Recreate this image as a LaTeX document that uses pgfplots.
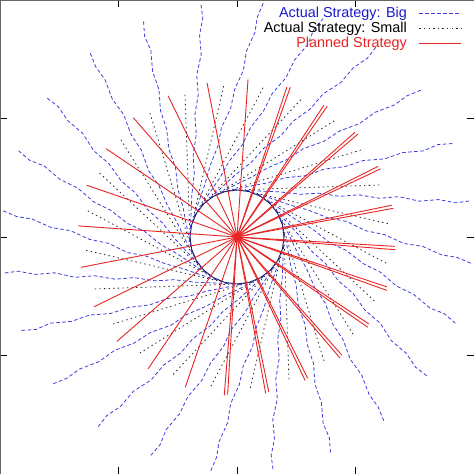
\documentclass[border=0pt]{standalone}
\usepackage{pgfplots}
\pgfplotsset{compat=1.18}
\usepackage{fontspec}
\setmainfont{Liberation Sans}
\definecolor{bigblue}{RGB}{60,60,225}
\definecolor{legblue}{RGB}{25,25,205}
\definecolor{planred}{RGB}{232,35,35}
\definecolor{circnavy}{RGB}{25,25,110}
\pgfplotsset{
  big/.style={draw=bigblue, color=bigblue, line width=0.8pt, dash pattern=on 3.6pt off 2.4pt, data cs=polar},
  small/.style={draw=black!85, color=black!85, line width=0.8pt, dash pattern=on 1.4pt off 3.2pt, data cs=polar},
  plan/.style={draw=planred, color=planred, line width=0.9pt, data cs=polar},
}
\begin{document}
\begin{tikzpicture}
\begin{axis}[
  width=474pt, height=474pt, scale only axis,
  xmin=-237, xmax=237, ymin=-237, ymax=237,
  xtick={-118.5,0,118.5}, ytick={-118.5,0,118.5},
  xticklabel=\empty, yticklabel=\empty,
  tick align=inside, major tick length=7pt,
  tick style={black, line width=0.8pt},
  axis line style={line width=0.8pt, black!60},
  legend style={at={(0.9746,0.9873)}, anchor=north east, draw=none, fill=none,
    inner sep=0pt, column sep=12pt, row sep=0pt,
    font=\fontsize{14.4}{15}\selectfont,
    nodes={inner sep=0pt, text height=11pt, text depth=4pt}},
  legend plot pos=right, legend cell align=right,
  legend image code/.code={\draw[#1] (0pt,0pt) -- (42pt,0pt);},
]
% Actual strategy: big (angle, radius)
\addplot[big] coordinates {(177,47) (154,51.1) (137.1,61.7) (124.1,76.2) (118.2,92.8) (111.6,110.5) (109.1,128.9) (105.2,147.7) (104,166.8) (101.1,186) (100.5,205.4) (98.9,221.1) (98.8,236.7)};
\addlegendentry{\textcolor{legblue}{Actual Strategy: Big}}
\addplot[big, forget plot] coordinates {(192,47) (169,51.1) (151.1,61.7) (140.9,76.2) (131.5,92.8) (127.9,110.5) (123.1,128.9) (121.2,147.7) (117.9,166.8) (117,186) (114.8,205.4) (114.7,221.1) (113.3,236.7)};
\addplot[big, forget plot] coordinates {(207,47) (184.8,51.1) (166.3,61.7) (155.7,76.2) (146.9,92.8) (143.1,110.5) (137.8,128.9) (135.9,147.7) (132.8,166.8) (132.1,186) (130,205.4) (129.7,221.1) (128.5,236.7)};
\addplot[big, forget plot] coordinates {(222,47) (199,51.1) (182.1,61.7) (169.1,76.2) (163.2,92.8) (156.6,110.5) (154.1,128.9) (150.2,147.7) (149,166.8) (146.1,186) (145.5,205.4) (143.9,221.1) (143.8,236.7)};
\addplot[big, forget plot] coordinates {(237,47) (214,51.1) (196.1,61.7) (185.9,76.2) (176.5,92.8) (172.9,110.5) (168.1,128.9) (166.2,147.7) (162.9,166.8) (162,186) (159.8,205.4) (159.7,221.1) (158.3,236.7)};
\addplot[big, forget plot] coordinates {(252,47) (229.8,51.1) (211.3,61.7) (200.7,76.2) (191.9,92.8) (188.1,110.5) (182.8,128.9) (180.9,147.7) (177.8,166.8) (177.1,186) (175,205.4) (174.7,221.1) (173.5,236.7)};
\addplot[big, forget plot] coordinates {(267,47) (244,51.1) (227.1,61.7) (214.1,76.2) (208.2,92.8) (201.6,110.5) (199.1,128.9) (195.2,147.7) (194,166.8) (191.1,186) (190.5,205.4) (188.9,221.1) (188.8,236.7)};
\addplot[big, forget plot] coordinates {(282,47) (259,51.1) (241.1,61.7) (230.9,76.2) (221.5,92.8) (217.9,110.5) (213.1,128.9) (211.2,147.7) (207.9,166.8) (207,186) (204.8,205.4) (204.7,221.1) (203.3,236.7)};
\addplot[big, forget plot] coordinates {(297,47) (274.8,51.1) (256.3,61.7) (245.7,76.2) (236.9,92.8) (233.1,110.5) (227.8,128.9) (225.9,147.7) (222.8,166.8) (222.1,186) (220,205.4) (219.7,221.1) (218.5,236.7)};
\addplot[big, forget plot] coordinates {(312,47) (289,51.1) (272.1,61.7) (259.1,76.2) (253.2,92.8) (246.6,110.5) (244.1,128.9) (240.2,147.7) (239,166.8) (236.1,186) (235.5,205.4) (233.9,221.1) (233.8,236.7)};
\addplot[big, forget plot] coordinates {(327,47) (304,51.1) (286.1,61.7) (275.9,76.2) (266.5,92.8) (262.9,110.5) (258.1,128.9) (256.2,147.7) (252.9,166.8) (252,186) (249.8,205.4) (249.7,221.1) (248.3,236.7)};
\addplot[big, forget plot] coordinates {(342,47) (319.8,51.1) (301.3,61.7) (290.7,76.2) (281.9,92.8) (278.1,110.5) (272.8,128.9) (270.9,147.7) (267.8,166.8) (267.1,186) (265,205.4) (264.7,221.1) (263.5,236.7)};
\addplot[big, forget plot] coordinates {(357,47) (334,51.1) (317.1,61.7) (304.1,76.2) (298.2,92.8) (291.6,110.5) (289.1,128.9) (285.2,147.7) (284,166.8) (281.1,186) (280.5,205.4) (278.9,221.1) (278.8,236.7)};
\addplot[big, forget plot] coordinates {(372,47) (349,51.1) (331.1,61.7) (320.9,76.2) (311.5,92.8) (307.9,110.5) (303.1,128.9) (301.2,147.7) (297.9,166.8) (297,186) (294.8,205.4) (294.7,221.1) (293.3,236.7)};
\addplot[big, forget plot] coordinates {(387,47) (364.8,51.1) (346.3,61.7) (335.7,76.2) (326.9,92.8) (323.1,110.5) (317.8,128.9) (315.9,147.7) (312.8,166.8) (312.1,186) (310,205.4) (309.7,221.1) (308.5,236.7)};
\addplot[big, forget plot] coordinates {(402,47) (379,51.1) (362.1,61.7) (349.1,76.2) (343.2,92.8) (336.6,110.5) (334.1,128.9) (330.2,147.7) (329,166.8) (326.1,186) (325.5,205.4) (323.9,221.1) (323.8,236.7)};
\addplot[big, forget plot] coordinates {(417,47) (394,51.1) (376.1,61.7) (365.9,76.2) (356.5,92.8) (352.9,110.5) (348.1,128.9) (346.2,147.7) (342.9,166.8) (342,186) (339.8,205.4) (339.7,221.1) (338.3,236.7)};
\addplot[big, forget plot] coordinates {(432,47) (409.8,51.1) (391.3,61.7) (380.7,76.2) (371.9,92.8) (368.1,110.5) (362.8,128.9) (360.9,147.7) (357.8,166.8) (357.1,186) (355,205.4) (354.7,221.1) (353.5,236.7)};
\addplot[big, forget plot] coordinates {(447,47) (424,51.1) (407.1,61.7) (394.1,76.2) (388.2,92.8) (381.6,110.5) (379.1,128.9) (375.2,147.7) (374,166.8) (371.1,186) (370.5,205.4) (368.9,221.1) (368.8,236.7)};
\addplot[big, forget plot] coordinates {(462,47) (439,51.1) (421.1,61.7) (410.9,76.2) (401.5,92.8) (397.9,110.5) (393.1,128.9) (391.2,147.7) (387.9,166.8) (387,186) (384.8,205.4) (384.7,221.1) (383.3,236.7)};
\addplot[big, forget plot] coordinates {(477,47) (454.8,51.1) (436.3,61.7) (425.7,76.2) (416.9,92.8) (413.1,110.5) (407.8,128.9) (405.9,147.7) (402.8,166.8) (402.1,186) (400,205.4) (399.7,221.1) (398.5,236.7)};
\addplot[big, forget plot] coordinates {(492,47) (469,51.1) (452.1,61.7) (439.1,76.2) (433.2,92.8) (426.6,110.5) (424.1,128.9) (420.2,147.7) (419,166.8) (416.1,186) (415.5,205.4) (413.9,221.1) (413.8,236.7)};
\addplot[big, forget plot] coordinates {(507,47) (484,51.1) (466.1,61.7) (455.9,76.2) (446.5,92.8) (442.9,110.5) (438.1,128.9) (436.2,147.7) (432.9,166.8) (432,186) (429.8,205.4) (429.7,221.1) (428.3,236.7)};
\addplot[big, forget plot] coordinates {(522,47) (499.8,51.1) (481.3,61.7) (470.7,76.2) (461.9,92.8) (458.1,110.5) (452.8,128.9) (450.9,147.7) (447.8,166.8) (447.1,186) (445,205.4) (444.7,221.1) (443.5,236.7)};

% Actual strategy: small
\addplot[small] coordinates {(167,47) (95,152)};
\addlegendentry{Actual Strategy: Small}
\addplot[small, forget plot] coordinates {(182,47) (110,152)};
\addplot[small, forget plot] coordinates {(197,47) (125,152)};
\addplot[small, forget plot] coordinates {(212,47) (140,152)};
\addplot[small, forget plot] coordinates {(227,47) (155,152)};
\addplot[small, forget plot] coordinates {(242,47) (170,152)};
\addplot[small, forget plot] coordinates {(257,47) (185,152)};
\addplot[small, forget plot] coordinates {(272,47) (200,152)};
\addplot[small, forget plot] coordinates {(287,47) (215,152)};
\addplot[small, forget plot] coordinates {(302,47) (230,152)};
\addplot[small, forget plot] coordinates {(317,47) (245,152)};
\addplot[small, forget plot] coordinates {(332,47) (260,152)};
\addplot[small, forget plot] coordinates {(347,47) (275,152)};
\addplot[small, forget plot] coordinates {(362,47) (290,152)};
\addplot[small, forget plot] coordinates {(377,47) (305,152)};
\addplot[small, forget plot] coordinates {(392,47) (320,152)};
\addplot[small, forget plot] coordinates {(407,47) (335,152)};
\addplot[small, forget plot] coordinates {(422,47) (350,152)};
\addplot[small, forget plot] coordinates {(437,47) (365,152)};
\addplot[small, forget plot] coordinates {(452,47) (380,152)};
\addplot[small, forget plot] coordinates {(467,47) (395,152)};
\addplot[small, forget plot] coordinates {(482,47) (410,152)};
\addplot[small, forget plot] coordinates {(497,47) (425,152)};
\addplot[small, forget plot] coordinates {(512,47) (440,152)};

% start circle
\addplot[circnavy, line width=0.9pt, data cs=polar, forget plot] coordinates {(0,47) (15,47) (30,47) (45,47) (60,47) (75,47) (90,47) (105,47) (120,47) (135,47) (150,47) (165,47) (180,47) (195,47) (210,47) (225,47) (240,47) (255,47) (270,47) (285,47) (300,47) (315,47) (330,47) (345,47) (360,47)};

% planned strategy
\addplot[plan] coordinates {(86,0) (86,158)};
\addlegendentry{\textcolor{planred}{Planned Strategy}}
\addplot[plan, forget plot] coordinates {(71.6,0) (71.6,158)};
\addplot[plan, forget plot] coordinates {(70.4,0) (70.4,159)};
\addplot[plan, forget plot] coordinates {(56.6,0) (56.6,158)};
\addplot[plan, forget plot] coordinates {(55.4,0) (55.4,159)};
\addplot[plan, forget plot] coordinates {(41.6,0) (41.6,158)};
\addplot[plan, forget plot] coordinates {(40.4,0) (40.4,159)};
\addplot[plan, forget plot] coordinates {(26.6,0) (26.6,158)};
\addplot[plan, forget plot] coordinates {(25.4,0) (25.4,159)};
\addplot[plan, forget plot] coordinates {(11.6,0) (11.6,158)};
\addplot[plan, forget plot] coordinates {(10.4,0) (10.4,159)};
\addplot[plan, forget plot] coordinates {(-3.4,0) (-3.4,158)};
\addplot[plan, forget plot] coordinates {(-4.6,0) (-4.6,159)};
\addplot[plan, forget plot] coordinates {(-18.4,0) (-18.4,158)};
\addplot[plan, forget plot] coordinates {(-19.6,0) (-19.6,159)};
\addplot[plan, forget plot] coordinates {(-33.4,0) (-33.4,158)};
\addplot[plan, forget plot] coordinates {(-34.6,0) (-34.6,159)};
\addplot[plan, forget plot] coordinates {(-48.4,0) (-48.4,158)};
\addplot[plan, forget plot] coordinates {(-49.6,0) (-49.6,159)};
\addplot[plan, forget plot] coordinates {(-63.4,0) (-63.4,158)};
\addplot[plan, forget plot] coordinates {(-64.6,0) (-64.6,159)};
\addplot[plan, forget plot] coordinates {(-78.4,0) (-78.4,158)};
\addplot[plan, forget plot] coordinates {(-79.6,0) (-79.6,159)};
\addplot[plan, forget plot] coordinates {(-93.4,0) (-93.4,158)};
\addplot[plan, forget plot] coordinates {(-94.6,0) (-94.6,159)};
\addplot[plan, forget plot] coordinates {(-109,0) (-109,159)};
\addplot[plan, forget plot] coordinates {(-124,0) (-124,159)};
\addplot[plan, forget plot] coordinates {(-139,0) (-139,159)};
\addplot[plan, forget plot] coordinates {(-154,0) (-154,159)};
\addplot[plan, forget plot] coordinates {(-169,0) (-169,159)};
\addplot[plan, forget plot] coordinates {(176,0) (176,159)};
\addplot[plan, forget plot] coordinates {(161,0) (161,159)};
\addplot[plan, forget plot] coordinates {(146,0) (146,158)};
\addplot[plan, forget plot] coordinates {(131,0) (131,158)};
\addplot[plan, forget plot] coordinates {(116,0) (116,157)};
\addplot[plan, forget plot] coordinates {(101,0) (101,157)};
\addplot[planred, only marks, mark=*, mark size=3.5pt, forget plot] coordinates {(0,0)};
\end{axis}
\pgfresetboundingbox
\path[use as bounding box] (current axis.south west) rectangle (current axis.north east);
\end{tikzpicture}
\end{document}
